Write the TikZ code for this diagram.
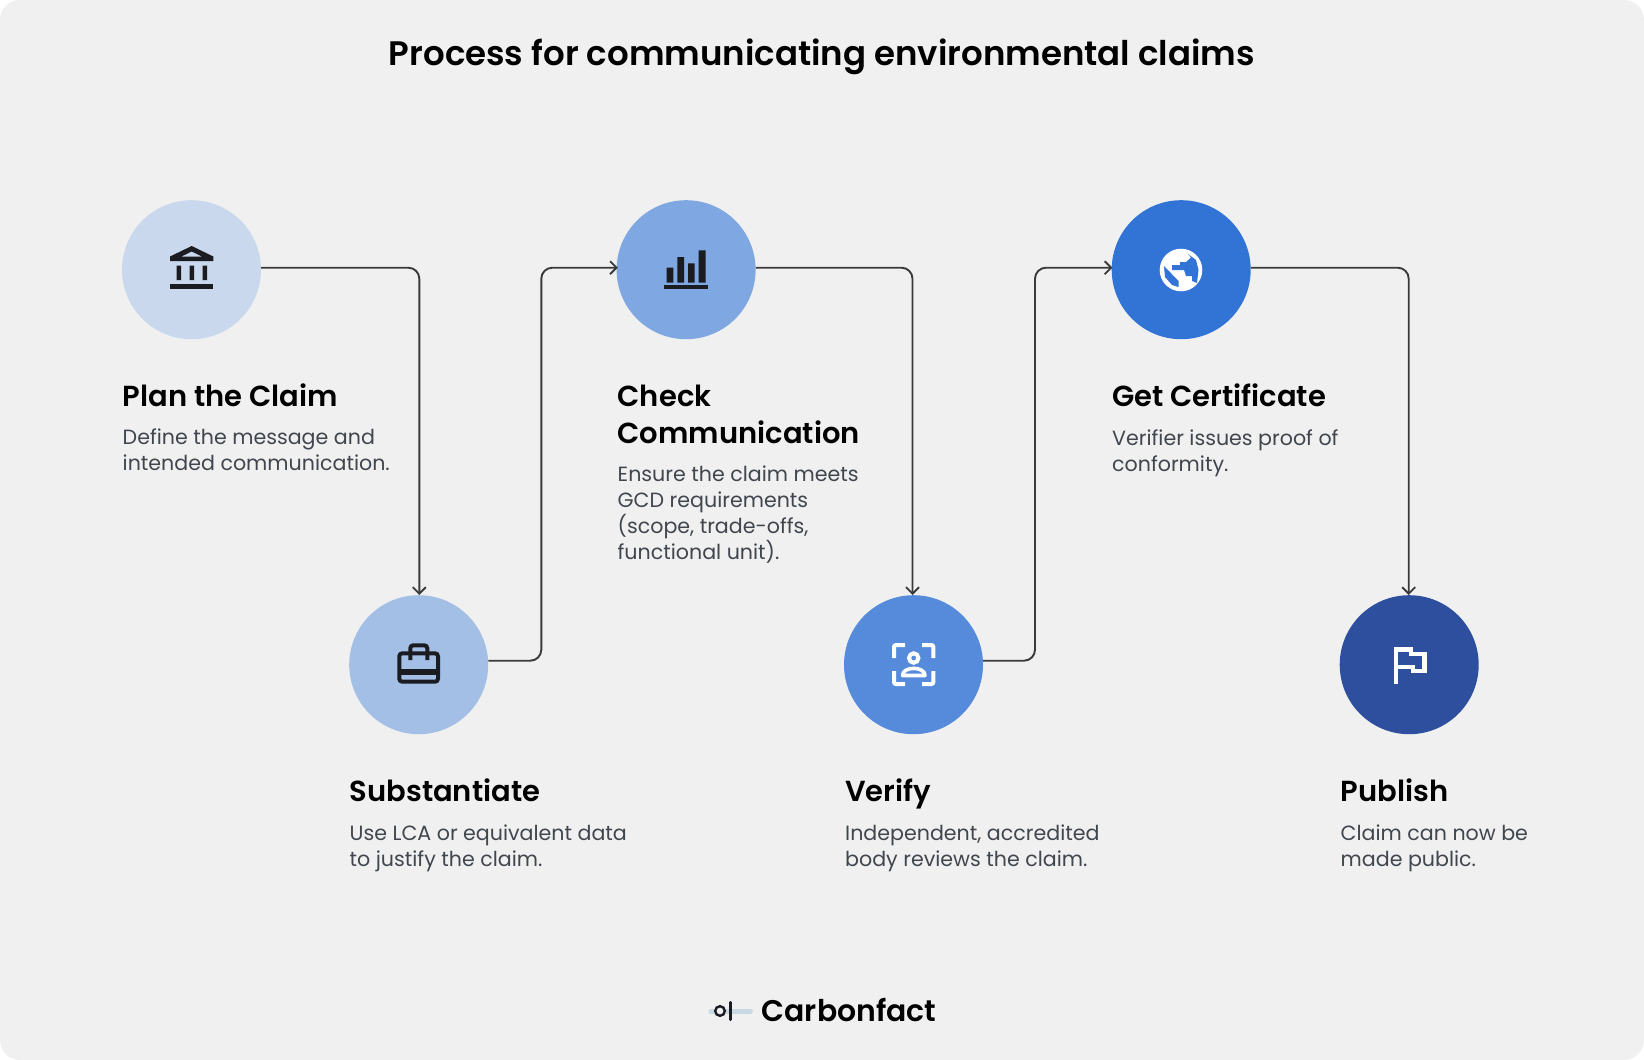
\documentclass[tikz,border=0pt]{standalone}
\usepackage{fontspec}
\setmainfont{Poppins}
\newfontfamily\headfont{Poppins SemiBold}
\usetikzlibrary{arrows.meta}

\definecolor{pagebg}{HTML}{F0F0F0}
\definecolor{inkdark}{HTML}{1B1B22}
\definecolor{bodygray}{HTML}{41464E}
\definecolor{linegray}{HTML}{3A3A3A}
\definecolor{stepa}{HTML}{C9D8EC}
\definecolor{stepb}{HTML}{A3BFE6}
\definecolor{stepc}{HTML}{7FA7E2}
\definecolor{stepd}{HTML}{568BDB}
\definecolor{stepe}{HTML}{3273D6}
\definecolor{stepf}{HTML}{2D4F9E}
\definecolor{logobar}{HTML}{C9D9E4}

\tikzset{
  circ/.style={circle,minimum size=139pt,inner sep=0pt,fill=#1},
  headtxt/.style={anchor=base west,inner sep=0pt,align=left,font=\headfont\fontsize{29}{36}\selectfont},
  bodytxt/.style={anchor=base west,inner sep=0pt,align=left,text=bodygray,font=\fontsize{20.6}{26}\selectfont},
  link/.style={draw=linegray,line width=1.9pt,rounded corners=11pt,-{Straight Barb[length=6.5pt,width=13pt,line width=1.9pt]}},
}

\begin{document}
\begin{tikzpicture}[x=1pt,y=-1pt,line join=miter]

% ---------- background ----------
\useasboundingbox (0,0) rectangle (1644,1060);
\fill[white] (0,0) rectangle (1644,1060);
\fill[pagebg,rounded corners=20pt] (0,0) rectangle (1644,1060);

\node[anchor=base,inner sep=0pt,font=\headfont\fontsize{34}{42}\selectfont] (title) at (822,65) {Process for communicating environmental claims};

% ---------- circles ----------
\node[circ=stepa] (plan) at (191.5,269.7) {};
\node[circ=stepb] (subst) at (418.7,664.7) {};
\node[circ=stepc] (check) at (686.1,269.7) {};
\node[circ=stepd] (verify) at (913.5,664.7) {};
\node[circ=stepe] (cert) at (1181.2,269.7) {};
\node[circ=stepf] (publish) at (1409.2,664.7) {};

% ---------- connectors ----------
\coordinate (bendA) at (541.3,267.7);
\coordinate (bendB) at (1035,267.7);

\draw[link] ([yshift=2pt]plan.east) -| ([xshift=0.6pt]subst.north);
\draw[link] ([yshift=4pt]subst.east) -| (bendA) -- ([xshift=1.5pt]check.west |- bendA);
\draw[link] ([yshift=2pt]check.east) -| ([xshift=-1pt]verify.north);
\draw[link] ([yshift=4pt]verify.east) -| (bendB) -- ([xshift=1pt]cert.west |- bendB);
\draw[link] ([yshift=2pt]cert.east) -| ([xshift=-0.5pt]publish.north);

% ---------- labels ----------
\node[headtxt] (planhead) at (122.5,406) {Plan the Claim};
\node[bodytxt] (plantxt) at (122.5,444.5) {Define the message and};
\node[bodytxt] (plantxtb) at (122.5,470.5) {intended communication.};

\node[headtxt] (substhead) at (349.5,801) {Substantiate};
\node[bodytxt] (substtxt) at (349.5,840) {Use LCA or equivalent data};
\node[bodytxt] (substtxtb) at (349.5,866) {to justify the claim.};

\node[headtxt] (checkhead) at (617.5,406.5) {Check};
\node[headtxt] (checkheadb) at (617.5,443) {Communication};
\node[bodytxt] (checktxt) at (617.5,481) {Ensure the claim meets};
\node[bodytxt] (checktxtb) at (617.5,507) {GCD requirements};
\node[bodytxt] (checktxtc) at (617.5,533) {(scope, trade-offs,};
\node[bodytxt] (checktxtd) at (617.5,559) {functional unit).};

\node[headtxt] (verifyhead) at (845,801) {Verify};
\node[bodytxt] (verifytxt) at (845,840) {Independent, accredited};
\node[bodytxt] (verifytxtb) at (845,866) {body reviews the claim.};

\node[headtxt] (certhead) at (1112,406.5) {Get Certificate};
\node[bodytxt] (certtxt) at (1112,445) {Verifier issues proof of};
\node[bodytxt] (certtxtb) at (1112,471) {conformity.};

\node[headtxt] (publishhead) at (1340.5,801) {Publish};
\node[bodytxt] (publishtxt) at (1340.5,840) {Claim can now be};
\node[bodytxt] (publishtxtb) at (1340.5,866) {made public.};

% ---------- icons ----------
% bank
\fill[inkdark,even odd rule] (170,261) -- (170,256.5) -- (191.7,246) -- (213.3,256.5) -- (213.3,261) -- cycle
  (181,256.7) -- (202.4,256.7) -- (191.7,251.5) -- cycle;
\fill[inkdark] (176.5,265.5) rectangle (181,280) (189.5,265.5) rectangle (194,280) (202.5,265.5) rectangle (207,280);
\fill[inkdark] (170,284.3) rectangle (213.3,288.7);

% briefcase
\draw[inkdark,line width=4pt,rounded corners=3pt] (399.3,653.3) rectangle (438,681.7);
\draw[inkdark,line width=4pt,rounded corners=3pt] (410.3,660) -- (410.3,645.3) -- (427.3,645.3) -- (427.3,660);
\fill[inkdark] (399,669) rectangle (438,675);

% bars
\fill[inkdark] (666.7,267.7) rectangle (673.3,282.7) (677.3,257) rectangle (684,282.7)
  (688,263.3) rectangle (694.7,282.7) (698.7,250.3) rectangle (705.7,282.7);
\fill[inkdark] (664.3,285) rectangle (708,289.3);

% face scan
\begin{scope}[white,line width=4pt]
\draw[rounded corners=2pt] (894,658) -- (894,645) -- (905,645);
\draw[rounded corners=2pt] (922,645) -- (933.3,645) -- (933.3,658);
\draw[rounded corners=2pt] (894,671) -- (894,684) -- (905,684);
\draw[rounded corners=2pt] (922,684) -- (933.3,684) -- (933.3,671);
\draw[line width=4pt] (913.7,658) circle (4.7pt);
\draw[line width=3.6pt,line join=round] (902.5,675.5) .. controls (902.5,666) and (925,666) .. (925,675.5) -- cycle;
\end{scope}

% globe
\fill[white] (1181,270) circle (21.3pt);
\fill[stepe] (1188,254) -- (1191,257.5) -- (1186,262) -- (1180,262) -- (1180,265) -- (1172,265)
  -- (1172,270) -- (1184,270) -- (1186,276) -- (1192,276) -- (1192,281) -- (1197,283)
  -- (1198.5,270) -- (1196,260) -- cycle;
\fill[stepe] (1164,266) -- (1178.5,281) -- (1178.5,287) -- (1172,285) -- (1165,277) -- cycle;

% flag
\draw[white,line width=4.3pt] (1396.2,684) -- (1396.2,649.5) -- (1411.3,649.5) -- (1411.3,654) -- (1424.5,654)
  -- (1424.5,671.2) -- (1413,671.2) -- (1413,666.8) -- (1396.2,666.8);

% ---------- logo ----------
\draw[logobar,line width=5pt,line cap=round] (711,1011) -- (750.5,1011);
\draw[inkdark,line width=2.4pt,fill=pagebg] (720,1011) circle (4.8pt);
\draw[inkdark,line width=3.4pt,line cap=round] (730.7,1002.5) -- (730.7,1019.5);
\node[anchor=base west,inner sep=0pt,font=\headfont\fontsize{29.9}{36}\selectfont] (brand) at (761.5,1021.7) {Carbonfact};

\end{tikzpicture}
\end{document}
